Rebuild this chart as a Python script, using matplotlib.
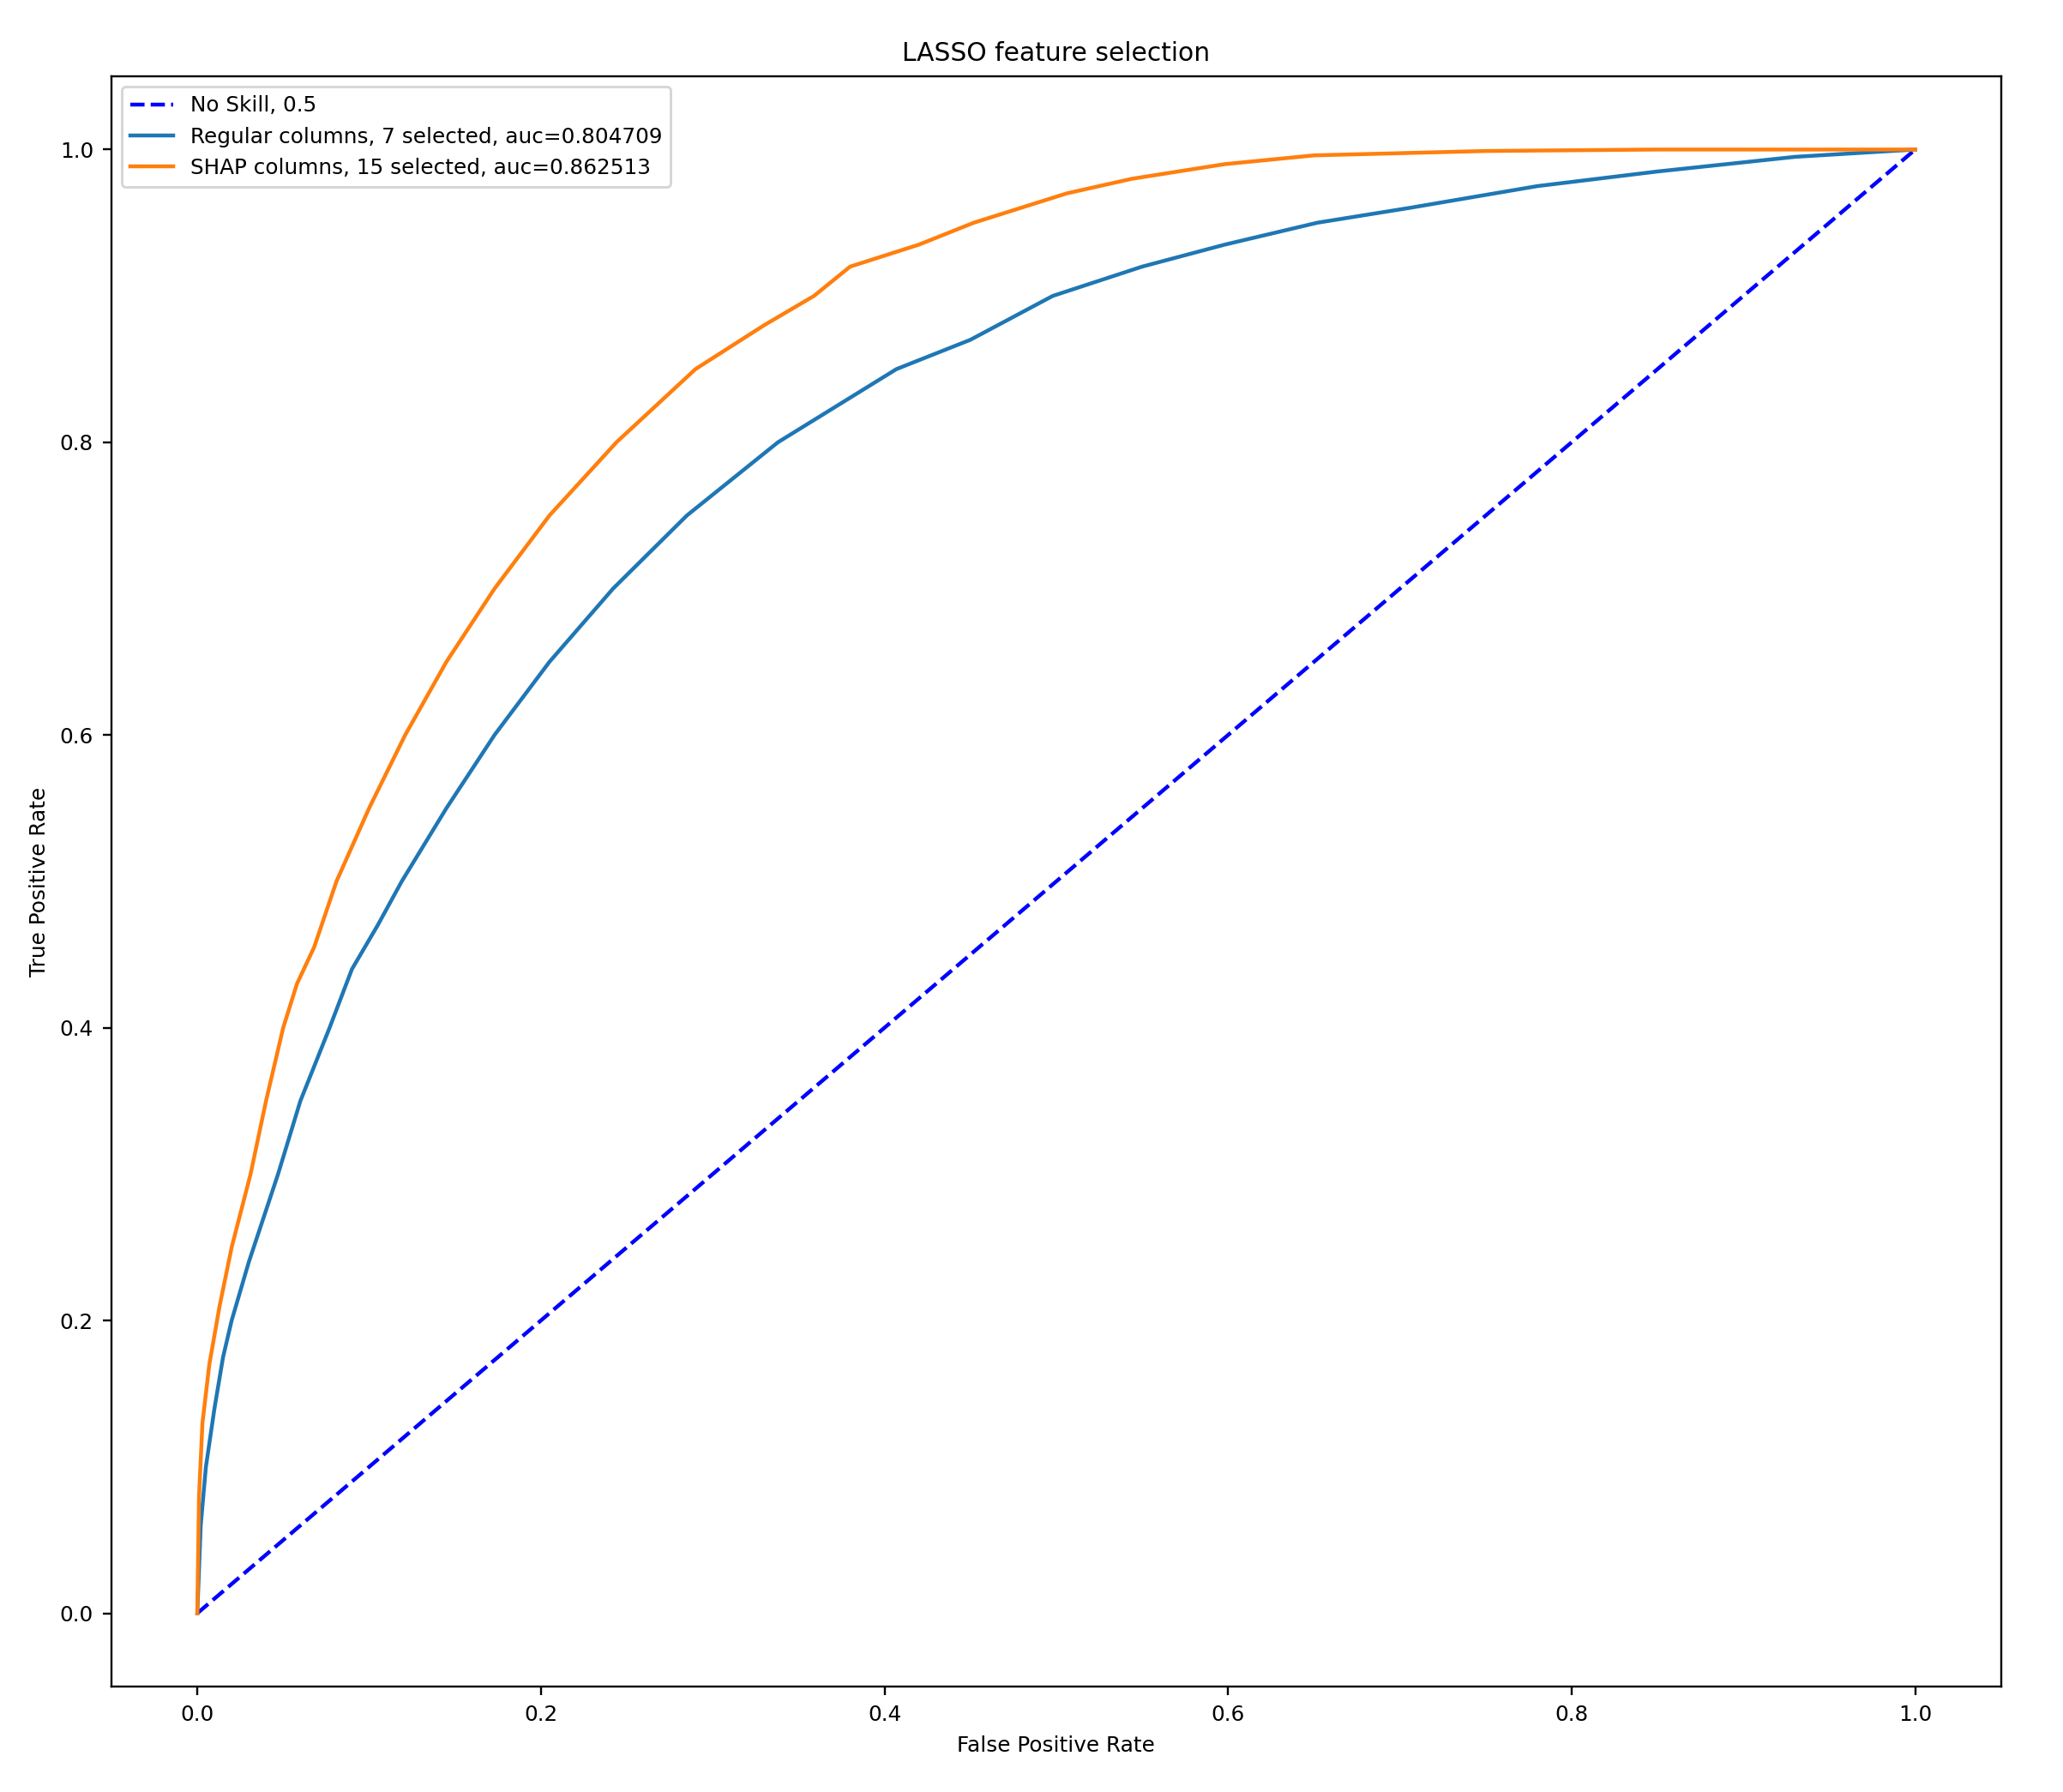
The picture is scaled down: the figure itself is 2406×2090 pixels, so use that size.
import numpy as np
import matplotlib
matplotlib.use("Agg")
import matplotlib.pyplot as plt

plt.rcParams['font.size'] = 8.3

# --- ROC points --------------------------------------------------------------
skill_fpr = [0.0, 1.0]
skill_tpr = [0.0, 1.0]

reg_fpr = [0.0, 0.002, 0.005, 0.010, 0.015, 0.020, 0.030, 0.047, 0.060, 0.077,
           0.090, 0.105, 0.119, 0.145, 0.173, 0.205, 0.242, 0.285, 0.338, 0.407,
           0.450, 0.498, 0.550, 0.598, 0.652, 0.705, 0.780, 0.850, 0.930, 1.0]
reg_tpr = [0.0, 0.06, 0.10, 0.14, 0.175, 0.20, 0.24, 0.30, 0.35, 0.40,
           0.44, 0.47, 0.50, 0.55, 0.60, 0.65, 0.70, 0.75, 0.80, 0.85,
           0.87, 0.90, 0.92, 0.935, 0.95, 0.96, 0.975, 0.985, 0.995, 1.0]

shap_fpr = [0.0, 0.001, 0.003, 0.007, 0.013, 0.020, 0.031, 0.040, 0.050, 0.058,
            0.068, 0.081, 0.100, 0.121, 0.145, 0.173, 0.205, 0.244, 0.290, 0.330,
            0.359, 0.380, 0.420, 0.452, 0.506, 0.544, 0.598, 0.650, 0.750, 0.850, 1.0]
shap_tpr = [0.0, 0.08, 0.13, 0.17, 0.21, 0.25, 0.30, 0.35, 0.40, 0.43,
            0.455, 0.50, 0.55, 0.60, 0.65, 0.70, 0.75, 0.80, 0.85, 0.88,
            0.90, 0.92, 0.935, 0.95, 0.97, 0.98, 0.99, 0.996, 0.999, 1.0, 1.0]

labels = ["No Skill, 0.5",
          "Regular columns, 7 selected, auc=0.804709",
          "SHAP columns, 15 selected, auc=0.862513"]

fig = plt.figure(figsize=(2406 / 215, 2090 / 215), dpi=215)
ax = fig.add_axes([0.054, 0.0589, 0.916, 0.8985])

ax.plot(skill_fpr, skill_tpr, linestyle='--', color='blue', label=labels[0])
ax.plot(reg_fpr, reg_tpr, label=labels[1])
ax.plot(shap_fpr, shap_tpr, label=labels[2])

ax.set_xlabel('False Positive Rate')
ax.set_ylabel('True Positive Rate')
ax.set_title('LASSO feature selection')
ax.legend(loc='upper left')

fig.savefig('out.png', dpi=215)
